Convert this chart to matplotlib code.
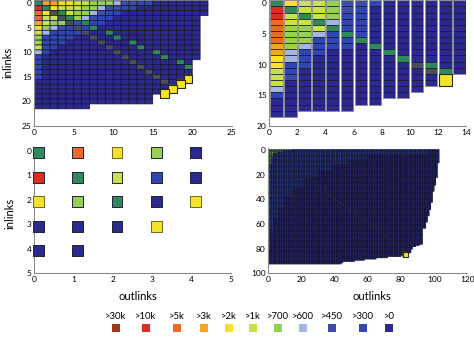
import numpy as np
import matplotlib
matplotlib.use('Agg')
import matplotlib.pyplot as plt
from matplotlib.colors import ListedColormap
from matplotlib.patches import Rectangle

plt.rcParams['font.family'] = ['Lato', 'DejaVu Sans']

# link-count classes, highest first
bins = ['>30k', '>10k', '>5k', '>3k', '>2k', '>1k', '>700', '>600', '>450', '>300', '>0']
bin_codes = 'KROAYLGPMBN'
bin_colors = ['#a3361b', '#dd2c22', '#ee6a2b', '#f5a42a', '#f7e02d', '#c8e24a',
              '#96d055', '#a4b4e4', '#3e4ea6', '#3046b4', '#2b2990']
# S: reciprocal band, D: inlinks == outlinks, H: highlighted end cells
extra_codes = 'SDH'
extra_colors = ['#2e8a5c', '#4a5058', '#f5e22a']

codes = bin_codes + extra_codes
colors = bin_colors + extra_colors
cmap = ListedColormap(colors)
yellow = extra_colors[2]

# run-length rows: letter = class, number = repeat count
a_rows = [
    'S A2 Y2 L2 G3 P M2 B2 N7',
    'R S Y L3 G2 P M2 B2 N9',
    'O Y D S L G2 P M B2 N11',
    'O L2 D S G P M B2 N11',
    'A L G2 D M S B2 N12',
    'Y G P M B D B S N13',
    'L P B4 D N2 S N11',
    'G B4 N2 D N2 S N10',
    'G B3 N4 D N3 S N8',
    'L B2 N6 D N3 S N7',
    'P B N8 D N4 S N5',
    'B N10 D N4 S N4',
    'B N11 D N5 S N',
    'B N12 D N5 S',
    'B N13 D N5',
    'B N14 D N3 H',
    'N16 D N H',
    'N17 H',
    'N16 H',
    'N15',
    'N15',
    'N7',
]

# columns, top to bottom
b_cols = [
    'S R2 O4 A2 Y2 L3 P B N3',
    'Y S L2 G4 P2 B2 M N6',
    'L2 S L G3 P B3 N7',
    'L3 S L P B3 N9',
    'G3 P S B3 N10',
    'M2 B3 S B2 N10',
    'M B5 S N10',
    'B N6 S N9',
    'N8 S N7',
    'N9 S N6',
    'N10 D N4',
    'N10 S D N2',
    'N11 S H2',
    'N12',
]

c_rows = [
    'S O Y G N',
    'R S L B N',
    'Y G S N H',
    'N3 H',
    'N2',
]

# full graph: (number of rows, cells in row)
d_rows = [(11, 103), (12, 102), (6, 101), (5, 100), (9, 99), (6, 98), (5, 97),
          (5, 96), (5, 95), (13, 93), (1, 91), (1, 89), (2, 87), (3, 86),
          (2, 84), (1, 80), (1, 72), (1, 65), (1, 58), (1, 52), (1, 45), (1, 44)]
d_mid = [(4, 96), (4, 60), (4, 48), (5, 38), (6, 30), (8, 22), (8, 15),
         (8, 10), (9, 6), (11, 3), (26, 1)]
d_green = [(1, 14), (1, 9), (1, 5), (3, 3), (6, 2), (70, 1)]
d_diag = (8, 80)
d_mark_rows = (83, 86)
d_mark_cols = (81, 83)

leg_x = [116, 146, 177, 204, 229, 253, 278, 303, 332, 363, 389]


def expand(rle):
    out = []
    for tok in rle.split():
        out += [tok[0]] * int(tok[1:] or 1)
    return out


def runs(pairs):
    out = []
    for n, v in pairs:
        out += [v] * n
    return out


def grid(rows):
    cells = [expand(r) for r in rows]
    m = np.full((len(cells), max(len(c) for c in cells)), np.nan)
    for i, r in enumerate(cells):
        for j, c in enumerate(r):
            m[i, j] = codes.index(c)
    return m


W, H = 474, 345
fig = plt.figure(figsize=(W / 100, H / 100), dpi=100)


def px_axes(x0, x1, y0, y1):
    return fig.add_axes([x0 / W, 1 - y1 / H, (x1 - x0) / W, (y1 - y0) / H])


def style(ax, xt, yt):
    for s in ('top', 'right'):
        ax.spines[s].set_visible(False)
    for s in ('left', 'bottom'):
        ax.spines[s].set_color('#8a8a8a')
        ax.spines[s].set_linewidth(0.8)
    ax.set_xticks(xt)
    ax.set_yticks(yt)
    ax.tick_params(length=0, labelsize=6, pad=2)


# inlinks / outlinks, zoomed
axA = px_axes(34.3, 231.7, 0.35, 126)
mA = grid(a_rows)
na, ma = mA.shape
axA.pcolor(np.arange(ma + 1), np.arange(na + 1) - 0.5, np.ma.masked_invalid(mA),
           cmap=cmap, vmin=-0.5, vmax=len(codes) - 0.5,
           edgecolors='#15152a', linewidth=0.5)
for i, j in zip(*np.where(mA == codes.index('H'))):
    axA.add_patch(Rectangle((j - 0.02, i - 0.45), 1.05, 1.75, facecolor=yellow,
                            edgecolor='#2a2a10', linewidth=0.8, zorder=3))
axA.set_xlim(0, 25)
axA.set_ylim(25, -0.6)
style(axA, range(0, 26, 5), range(0, 26, 5))

# per-column view
axB = px_axes(269.3, 466, 0.23, 126)
for j, col in enumerate(b_cols):
    cells = expand(col)
    n = len(cells)
    axB.bar(np.full(n, j + 0.52), 1.0, bottom=np.arange(n) - 0.5, width=0.9,
            color=[colors[codes.index(c)] for c in cells],
            edgecolor='#15152a', linewidth=0.5)
    axB.bar(j + 0.52, n, bottom=-0.5, width=0.9, fill=False,
            edgecolor='#a0a0a0', linewidth=0.6)
    hl = [i for i, c in enumerate(cells) if c == 'H']
    if hl:
        axB.add_patch(Rectangle((j + 0.07, hl[0] - 0.5), 0.9, len(hl),
                                facecolor=yellow, edgecolor='#2a2a10',
                                linewidth=0.8, zorder=3))
axB.set_xlim(0, 14)
axB.set_ylim(20, -0.5)
style(axB, range(0, 15, 2), range(0, 21, 5))

# small graph as markers
axC = px_axes(34.3, 231, 150.7, 273.3)
xs, ys, fc, ec = [], [], [], []
for i, r in enumerate(c_rows):
    for j, c in enumerate(expand(r)):
        xs.append(j)
        ys.append(i)
        fc.append(colors[codes.index(c)])
        ec.append('#6a6a20' if c in 'HY' else '#222233')
axC.scatter(np.array(xs) + 0.1, np.array(ys) + 0.08, s=60, marker='s', c=fc,
            edgecolors=ec, linewidths=0.7, clip_on=False, zorder=3)
axC.set_xlim(0, 5)
axC.set_ylim(5, 0)
style(axC, range(6), range(6))

# whole graph
axD = px_axes(268.3, 467.3, 148.2, 273.3)
lens, mids, greens = runs(d_rows), runs(d_mid), runs(d_green)
mD = np.full((len(lens), max(lens)), np.nan)
for i, n in enumerate(lens):
    mD[i, :n] = codes.index('N')
    mD[i, :min(mids[i], n)] = codes.index('B')
for i, n in enumerate(greens):
    mD[i, :n] = codes.index('L' if i == 0 else 'G')
for i in range(d_diag[0], d_diag[1] + 1):
    mD[i, i] = codes.index('D')
r0, r1 = d_mark_rows
c0, c1 = d_mark_cols
mD[r0:r1 + 1, c0:c1 + 1] = codes.index('H')
nd, md = mD.shape
axD.pcolor(np.arange(md + 1), np.arange(nd + 1) - 0.5, np.ma.masked_invalid(mD),
           cmap=cmap, vmin=-0.5, vmax=len(codes) - 0.5,
           edgecolors='#0c0c22', linewidth=0.35)
axD.add_patch(Rectangle((c0, r0 - 0.5), c1 - c0 + 1, r1 - r0 + 1,
                        facecolor=yellow, edgecolor='#2a2a10', linewidth=0.8,
                        zorder=3))
axD.set_xlim(0, 120)
axD.set_ylim(100, -1.5)
style(axD, range(0, 121, 20), range(0, 101, 20))

fig.text(8.3 / W, 1 - 62 / H, 'inlinks', rotation=90, ha='center', va='center', fontsize=8)
fig.text(10 / W, 1 - 213 / H, 'inlinks', rotation=90, ha='center', va='center', fontsize=8)
fig.text(137.7 / W, 1 - 296.7 / H, 'outlinks', ha='center', va='center', fontsize=8)
fig.text(372.3 / W, 1 - 296.7 / H, 'outlinks', ha='center', va='center', fontsize=8)

# class legend
axL = fig.add_axes([0, 0, 1, 1], zorder=-1)
axL.set_xlim(0, W)
axL.set_ylim(H, 0)
axL.axis('off')
axL.scatter(leg_x, [328.3] * len(bins), s=30, marker='s', c=bin_colors,
            edgecolors='none')
for x, b in zip(leg_x, bins):
    axL.text(x, 316.7, b, ha='center', va='center', fontsize=6.8)

fig.savefig('out.png', dpi=100)
